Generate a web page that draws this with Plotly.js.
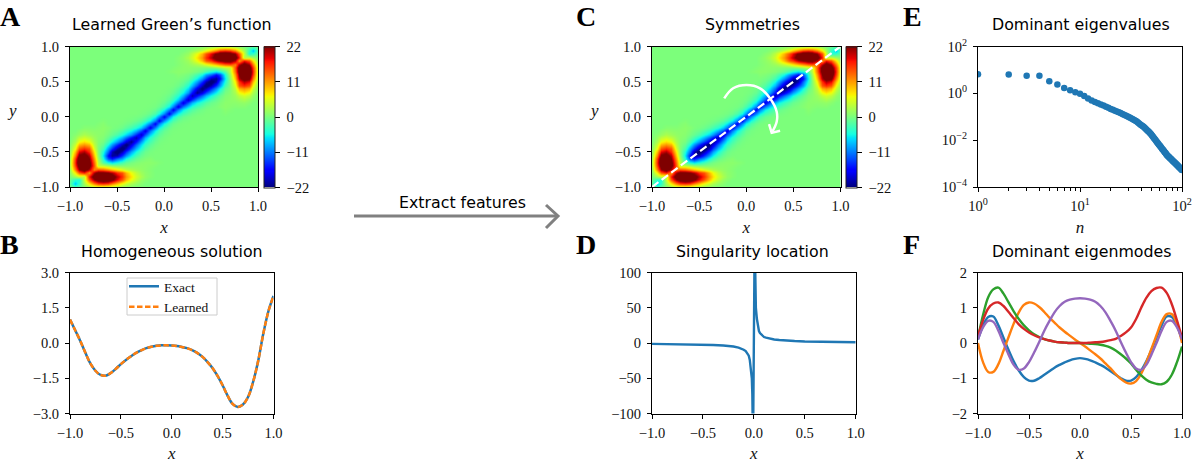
<!DOCTYPE html>
<html><head><meta charset="utf-8">
<script src="https://cdn.plot.ly/plotly-3.0.1.min.js"></script>
<style>html,body{margin:0;padding:0;background:#fff}#g{width:1200px;height:466px}</style>
</head><body><div id="g"></div>
<script>
// ---- Green's function values read on a 0.05 grid: gRows[j][m] is the value at y=0.05*j, x=y-0.05*m
// (the picture is symmetric under x<->y and (x,y)->(-x,-y); omitted tail values are 0)
const gRows = [
 [-17],
 [-17,-10.5,-5.5],
 [-17,-10.8,-5.7,-2.6,-1],
 [-17.5,-11,-6,-2.8,-1.1,-.3,-.1],
 [-18,-11.5,-6.4,-3.2,-1.3,-.4,-.1],
 [-19,-13,-7.5,-3.8,-1.8,-.6,-.2],
 [-20,-14.5,-8.7,-4.6,-2.3,-.9,-.3],
 [-21.5,-16,-10,-5.7,-3,-1.2,-.4,-.1],
 [-23,-18,-12,-7,-3.8,-1.8,-.6,-.2],
 [-24,-19.5,-13.5,-8.5,-4.8,-2.2,-.8,-.2],
 [-24,-20,-14.5,-9.5,-5.5,-2.6,-1,-.3],
 [-21,-20,-14.5,-10,-6,-3,-1.2,-.4,0],
 [-13,-16,-12,-9.5,-5.5,-3,-1.2,-.3,.2,.5],
 [-2,-5,-6.5,-5,-3,-1.3,-.3,.3,.6,.8,.8,.6,.3],
 [4,3.5,2,1,.4,.3,.4,.6,.8,.9,.8,.6,.3],
 [12,14,13,11,9,7,5,3.5,2.5,1.7,1.2,.8,.4],
 [11,20,24,24,22,20,16,14,9.5,6,3.5,1.8,1,.5],
 [3,17,25,28,29,28,25,20,16,11,7.5,4.5,2.5,1.2,.5],
 [-5,4,14,21,25,27,26,23,18,14,9.5,6,3.5,1.5,.7],
 [-8,-4,2,7,12,15,16,15,12,9,6,4,2.4,1.3,.6],
 [0,-2,-1,0,1,2,3,3,2.5,2,1.5,1,.5,.2]
];
const gridStep = 0.05, gridHalf = 20;
const barTicks = [-22,-11,0,11,22];

// ---- B: homogeneous solution
const xB = [-1,-.95,-.9,-.85,-.8,-.75,-.7,-.65,-.6,-.55,-.5,-.45,-.4,-.35,-.3,-.25,-.2,-.15,-.1,-.05,0,.05,.1,.15,.2,.25,.3,.35,.4,.45,.5,.55,.6,.65,.7,.75,.8,.85,.9,.95,1];
const exactB = [1,.55,.1,-.4,-.87,-1.18,-1.36,-1.39,-1.28,-1.1,-.9,-.72,-.56,-.42,-.31,-.22,-.16,-.12,-.1,-.1,-.11,-.13,-.17,-.22,-.3,-.42,-.58,-.8,-1.06,-1.4,-1.8,-2.25,-2.6,-2.72,-2.62,-2.3,-1.65,-.75,.4,1.35,2];
const learnedB = exactB.slice();

// ---- C overlays
const diagX = [-1,1], diagY = [-1,1];
const arcX = [-.234,-.139,.004,.146,.252,.323,.323,.27];
const arcY = [.262,.405,.452,.405,.262,.071,-.071,-.229];
const headX = [.242,.27,.359];
const headY = [-.105,-.229,-.2];

// ---- D: singularity
const xD = [-1,-.9,-.8,-.7,-.6,-.5,-.4,-.3,-.25,-.2,-.15,-.12,-.1,-.08,-.06,-.05,-.04,-.03,-.02,-.015,-.012,-.008,.008,.012,.015,.02,.03,.04,.05,.06,.08,.1,.12,.15,.2,.25,.3,.4,.5,.6,.7,.8,.9,1];
const yD = [-1.3,-1.4,-1.6,-1.8,-2,-2.3,-2.8,-3.5,-4,-5,-6.5,-8,-9.5,-11.5,-15,-18,-24,-34,-50,-72,-100,-150,150,100,72,50,34,22,17,14,10.5,8.5,7.5,6.2,5,4.2,3.5,2.8,2.2,1.9,1.6,1.4,1.25,1.1];

// ---- E: eigenvalues
const nE = Array.from({length:100},(_,i)=>i+1);
const eigE = [6.6,6.3,5.7,5.6,3.3,2.4,1.7,1.35,1.12,.95,
 .76,.6,.5,.43,.38,.335,.3,.27,.24,.215,
 .198,.182,.168,.155,.143,.132,.122,.113,.105,.098,
 .091,.085,.079,.073,.067,.062,.057,.052,.047,.043,
 .04,.037,.034,.031,.028,.0255,.0233,.0213,.0195,.0175,
 .0155,.0139,.0124,.0112,.0101,.0091,.0082,.0074,.0067,.0061,
 .0056,.0051,.0046,.0042,.0039,.0036,.0033,.003,.0028,.00255,
 .00235,.0022,.00208,.00196,.00185,.00175,.00165,.00156,.00148,.0014,
 .00133,.00126,.0012,.00114,.00108,.00103,.00098,.00093,.00089,.00085,
 .00081,.00077,.00073,.0007,.00067,.00064,.00061,.00058,.00055,.00053];

// ---- F: eigenmodes
const xF = xB.slice();
const mode1 = [.1,.5,.74,.75,.5,.15,-.2,-.52,-.78,-.97,-1.07,-1.07,-1,-.9,-.8,-.7,-.62,-.55,-.49,-.45,-.43,-.45,-.49,-.55,-.62,-.7,-.8,-.9,-1,-1.07,-1.07,-.97,-.78,-.52,-.2,.15,.5,.75,.74,.5,.1];
const mode2 = [0,-.55,-.82,-.82,-.6,-.22,.17,.55,.87,1.08,1.15,1.12,1.02,.88,.72,.58,.44,.32,.21,.1,0,-.1,-.21,-.32,-.44,-.58,-.72,-.88,-1.02,-1.12,-1.15,-1.08,-.87,-.55,-.17,.22,.6,.82,.82,.55,0];
const mode3 = [.15,.8,1.3,1.52,1.57,1.4,1.15,.9,.68,.5,.36,.25,.17,.11,.07,.04,.02,.01,0,0,0,-.01,-.02,-.03,-.05,-.08,-.13,-.21,-.32,-.44,-.58,-.76,-.92,-1.04,-1.12,-1.16,-1.17,-1.1,-.9,-.55,-.1];
const mode4 = [.2,.65,.98,1.12,1.15,1.05,.88,.7,.53,.4,.3,.22,.16,.11,.07,.04,.02,.01,0,0,0,0,.01,.02,.03,.05,.08,.12,.2,.3,.44,.68,1,1.28,1.47,1.56,1.57,1.42,1.1,.65,.15];
const mode5 = [.1,.45,.63,.6,.35,0,-.33,-.62,-.76,-.72,-.54,-.27,.03,.35,.62,.87,1.05,1.17,1.23,1.26,1.27,1.26,1.23,1.17,1.05,.87,.62,.35,.03,-.27,-.54,-.72,-.76,-.62,-.33,0,.35,.6,.63,.45,.1];

const tabColors = ['#1f77b4','#ff7f0e','#2ca02c','#d62728','#9467bd'];
const panelLetters = ['A','B','C','D','E','F'];
const panelTitles = ["Learned Green’s function","Homogeneous solution","Symmetries","Singularity location","Dominant eigenvalues","Dominant eigenmodes"];

// ---- build heatmap grid
const axisGrid = [];
for (let i=-gridHalf;i<=gridHalf;i++) axisGrid.push(+(i*gridStep).toFixed(2));
function cell(i,j){ let a=i,b=j; if(b<a){a=j;b=i;} if(a+b<0){const t=a;a=-b;b=-t;} const r=gRows[b]||[]; const v=r[b-a]; return v===undefined?0:v; }
const gridZ = [];
for (let j=-gridHalf;j<=gridHalf;j++){ const row=[]; for(let i=-gridHalf;i<=gridHalf;i++) row.push(cell(i,j)); gridZ.push(row); }

const W=1200,H=466;
const jet=[[0,'rgb(0,0,127)'],[.11,'rgb(0,0,255)'],[.125,'rgb(0,0,255)'],[.34,'rgb(0,219,255)'],[.35,'rgb(0,230,247)'],[.375,'rgb(21,255,226)'],[.64,'rgb(239,255,8)'],[.65,'rgb(247,246,0)'],[.66,'rgb(255,236,0)'],[.89,'rgb(255,19,0)'],[.91,'rgb(232,0,0)'],[1,'rgb(127,0,0)']];
const serif='"Liberation Serif","DejaVu Serif",serif', sans='"DejaVu Sans",sans-serif';
const tickFont={family:serif,size:14.5,color:'#111'};
const top1=46.5,bot1=187,top2=272.5,bot2=413.5;

function bar(xpx){return {x:xpx/W,xref:'paper',xanchor:'left',xpad:0,y:1-top1/H,yanchor:'top',ypad:0,len:(bot1-top1)/H,lenmode:'fraction',thickness:10.5,thicknessmode:'pixels',tickmode:'array',tickvals:barTicks,ticktext:barTicks.map(v=>'\u00a0'+String(v).replace('-','−')),ticks:'outside',ticklen:5,tickwidth:1,tickcolor:'#000',tickfont:tickFont,outlinecolor:'#222',outlinewidth:1};}
function heat(xa,ya,cb){return {type:'heatmap',x:axisGrid,y:axisGrid,z:gridZ,zmin:-22,zmax:22,zsmooth:'best',colorscale:jet,xaxis:xa,yaxis:ya,colorbar:cb,showscale:true,hoverinfo:'skip'};}
function line(x,y,xa,ya,color,extra){return Object.assign({type:'scatter',mode:'lines',x,y,xaxis:xa,yaxis:ya,line:{color,width:2},showlegend:false},extra||{});}

const data=[
 heat('x','y',bar(264)),
 line(xB,exactB,'x2','y2',tabColors[0],{name:'Exact',showlegend:true,line:{color:tabColors[0],width:2.5,shape:'spline'}}),
 line(xB,learnedB,'x2','y2',tabColors[1],{name:'Learned',showlegend:true,line:{color:tabColors[1],width:2.5,dash:'5.5px,2.5px',shape:'spline'}}),
 heat('x3','y3',bar(846)),
 line(diagX,diagY,'x3','y3','#fff',{line:{color:'#fff',width:2.2,dash:'8px,4px'}}),
 line(arcX,arcY,'x3','y3','#fff',{line:{color:'#fff',width:2.5,shape:'spline'}}),
 line(headX,headY,'x3','y3','#fff',{line:{color:'#fff',width:2.5}}),
 line(xD,yD,'x4','y4',tabColors[0],{line:{color:tabColors[0],width:2.4}}),
 {type:'scatter',mode:'markers',x:nE,y:eigE,xaxis:'x5',yaxis:'y5',marker:{color:tabColors[0],size:6.5},showlegend:false},
 line(xF,mode1,'x6','y6',tabColors[0],{line:{color:tabColors[0],width:2.4,shape:'spline'}}),
 line(xF,mode2,'x6','y6',tabColors[1],{line:{color:tabColors[1],width:2.4,shape:'spline'}}),
 line(xF,mode3,'x6','y6',tabColors[2],{line:{color:tabColors[2],width:2.4,shape:'spline'}}),
 line(xF,mode4,'x6','y6',tabColors[3],{line:{color:tabColors[3],width:2.4,shape:'spline'}}),
 line(xF,mode5,'x6','y6',tabColors[4],{line:{color:tabColors[4],width:2.4,shape:'spline'}})
];

function xax(l,r,anchor,label,extra){return Object.assign({domain:[l/W,r/W],anchor,range:[-1,1],dtick:.5,tick0:-1,tickformat:'.1f',showgrid:false,zeroline:false,showline:true,linecolor:'#000',linewidth:1,mirror:true,ticks:'outside',ticklen:4,tickwidth:1,tickcolor:'#000',tickfont:tickFont,ticklabelstandoff:2,automargin:false,title:{text:'<i>'+label+'</i>',font:{family:serif,size:17,color:'#111'},standoff:7}},extra||{});}
function yax(t,b,anchor,range,dtick,fmt,extra){return Object.assign({domain:[1-b/H,1-t/H],anchor,range,dtick,tick0:range[0],tickformat:fmt,showgrid:false,zeroline:false,showline:true,linecolor:'#000',linewidth:1,mirror:true,ticks:'outside',ticklen:4,tickwidth:1,tickcolor:'#000',tickfont:tickFont,ticklabelstandoff:3,automargin:false},extra||{});}

const layout={width:W,height:H,margin:{l:0,r:0,t:0,b:0,autoexpand:false},paper_bgcolor:'#fff',plot_bgcolor:'#fff',
 xaxis:xax(70,258,'y','x'),yaxis:yax(top1,bot1,'x',[-1,1],.5,'.1f'),
 xaxis2:xax(70,273.5,'y2','x'),yaxis2:yax(top2,bot2,'x2',[-3,3],1.5,'.1f'),
 xaxis3:xax(652,840.5,'y3','x'),yaxis3:yax(top1,bot1,'x3',[-1,1],.5,'.1f'),
 xaxis4:xax(652,855.7,'y4','x'),yaxis4:yax(top2,bot2,'x4',[-100,100],50,'d'),
 xaxis5:xax(978,1182,'y5','n',{type:'log',range:[0,2],tickformat:null,dtick:null,tick0:null,tickmode:'array',tickvals:[1,10,100],ticktext:['10<sup>0</sup>','10<sup>1</sup>','10<sup>2</sup>'],minor:{ticks:'outside',ticklen:2.5,tickcolor:'#000',tickmode:'array',tickvals:[2,3,4,5,6,7,8,9,20,30,40,50,60,70,80,90]}}),
 yaxis5:yax(top1,bot1,'x5',[-4,2],2,'',{type:'log',tickformat:null,dtick:null,tick0:null,tickmode:'array',tickvals:[1e-4,1e-2,1,100],ticktext:['10<sup>−4</sup>','10<sup>−2</sup>','10<sup>0</sup>','10<sup>2</sup>']}),
 xaxis6:xax(978,1182,'y6','x'),yaxis6:yax(top2,bot2,'x6',[-2,2],1,'d'),
 legend:{x:124/W,xanchor:'left',y:1-271/H,yanchor:'top',bgcolor:'rgba(255,255,255,0)',borderwidth:0,font:{family:serif,size:13.5,color:'#111'},itemwidth:30,tracegroupgap:0},
 shapes:[
  {type:'rect',xref:'paper',yref:'paper',x0:127/W,x1:217/W,y0:1-278/H,y1:1-315/H,line:{color:'#ccc',width:1},fillcolor:'rgba(255,255,255,.9)'},
  {type:'line',xref:'paper',yref:'paper',x0:354/W,x1:556/W,y0:1-216/H,y1:1-216/H,line:{color:'#808080',width:3}},
  {type:'path',xref:'paper',yref:'paper',path:`M ${546/W} ${1-205/H} L ${558/W} ${1-216/H} L ${546/W} ${1-228/H}`,line:{color:'#808080',width:3}}
 ],
 annotations:[]
};
const A=layout.annotations;
function note(text,x,y,font,extra){A.push(Object.assign({text,x:x/W,y:1-y/H,xref:'paper',yref:'paper',showarrow:false,xanchor:'center',yanchor:'middle',font},extra||{}));}
const titleX=[171.5,171.5,753,753,1081,1081.5], titleY=[25,251,25,251,25,251];
panelTitles.forEach((t,i)=>note(t,titleX[i],titleY[i],{family:sans,size:15.8,color:'#000'}));
const letterX=[0,0,576,576,903,903], letterY=[16,245,16,245,16,245];
panelLetters.forEach((t,i)=>note('<b>'+t+'</b>',letterX[i],letterY[i],{family:serif,size:28,color:'#000'},{xanchor:'left',xshift:-2}));
note('<i>y</i>',12,110,{family:serif,size:17,color:'#111'});
note('<i>y</i>',594,110,{family:serif,size:17,color:'#111'});
note('Extract features',463,202,{family:sans,size:15.8,color:'#000'});
Plotly.newPlot('g',data,layout,{displayModeBar:false,staticPlot:true});
</script></body></html>
